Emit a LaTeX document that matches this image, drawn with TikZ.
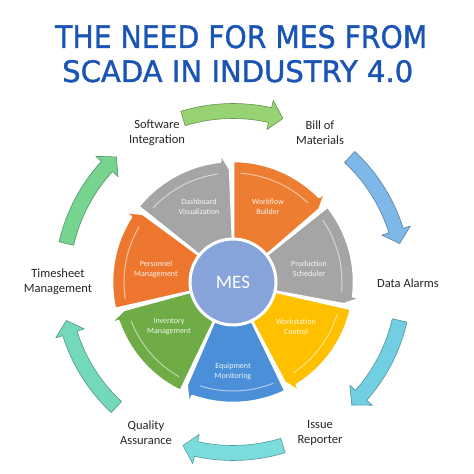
\documentclass[tikz,border=0pt]{standalone}
\usepackage{fontspec}
\setmainfont{Carlito}
\newfontfamily\titlefont[FakeBold=1.2]{DejaVu Sans}
\definecolor{segorange}{HTML}{ED7D31}
\definecolor{seggray}{HTML}{A5A5A5}
\definecolor{segyellow}{HTML}{FFC000}
\definecolor{segblue}{HTML}{4A8FD8}
\definecolor{seggreen}{HTML}{6FAC46}
\definecolor{mesblue}{HTML}{86A3DA}
\definecolor{titleblue}{HTML}{1A55B5}
\definecolor{arA}{HTML}{97D273}
\definecolor{arB}{HTML}{7DB8E8}
\definecolor{arC}{HTML}{72CFE2}
\definecolor{arD}{HTML}{7ADCDC}
\definecolor{arE}{HTML}{74D8BA}
\definecolor{arF}{HTML}{76D48E}
\newcommand{\messeg}[3]{%
  \pgfmathsetmacro\hbase{#3+6}%
  \pgfmathsetmacro\htip{#3+1.5}%
  \pgfmathsetmacro\hlA{#2-4}%
  \pgfmathsetmacro\hlB{#3+8}%
  \filldraw[fill=#1, draw=white, line width=2.5pt, line join=round]
    (#2:40) -- (#2:121) arc[start angle=#2, end angle=\hbase, radius=121]
    -- (\hbase:131) -- (\htip:113) -- (#3:40)
    arc[start angle=#3, end angle=#2, radius=40] -- cycle;
  \draw[#1!45!white, line width=1pt] (\hlA:109) arc[start angle=\hlA, end angle=\hlB, radius=109];
}
\newcommand{\ringarrow}[4]{%
  \pgfmathsetmacro\hb{#3+4.5}%
  \filldraw[fill=#1, draw=#4, line width=0.6pt, line join=round]
    (#2:178.5) arc[start angle=#2, end angle=\hb, radius=178.5]
    -- (\hb:186) -- (#3:171) -- (\hb:156) -- (\hb:163.5)
    arc[start angle=\hb, end angle=#2, radius=163.5] -- cycle;
}
\tikzset{
  outlabel/.style={align=center, text=black!85, font=\fontsize{12.5}{15}\selectfont, inner sep=0pt},
  seglabel/.style={align=center, text=white, opacity=0.9, font=\fontsize{8}{10}\selectfont, inner sep=0pt},
  titleline/.style={anchor=base west, inner sep=0pt, text=titleblue}
}
\begin{document}
\begin{tikzpicture}[x=1pt,y=1pt]
\useasboundingbox (0,0) rectangle (474,474);
\fill[white] (0,0) rectangle (474,474);
% title
\node[titleline] (t1) at (55,426) {\resizebox{372pt}{23pt}{\titlefont THE NEED FOR MES FROM}};
\node[titleline] (t2) at (62,392) {\resizebox{351pt}{22pt}{\titlefont SCADA IN INDUSTRY 4.0}};
\begin{scope}[shift={(233,192)}]
% outer ring arrows
\ringarrow{arA}{107}{73}{arA!70!black}
\ringarrow{arB}{47}{13}{arB!70!black}
\ringarrow{arC}{-13}{-46}{arC!70!black}
\ringarrow{arD}{-73}{-107}{arD!70!black}
\ringarrow{arE}{-133}{-167}{arE!70!black}
\ringarrow{arF}{167}{133}{arF!70!black}
% segments
\messeg{segorange}{90}{38.571}
\messeg{seggray}{38.571}{-12.857}
\messeg{segyellow}{-12.857}{-64.286}
\messeg{segblue}{-64.286}{-115.714}
\messeg{seggreen}{-115.714}{-167.143}
\messeg{segorange!95!red}{-167.143}{-218.571}
\messeg{seggray}{141.429}{90}
% centre
\node[circle, fill=mesblue, draw=white, line width=3pt, minimum size=86pt, text=white, font=\fontsize{19}{21}\selectfont] (mes) at (0,0) {MES};
% segment labels
\node[seglabel] (workflow) at (35,75) {Workflow\\Builder};
\node[seglabel] (production) at (76,13) {Production\\Scheduler};
\node[seglabel] (workstation) at (63,-45) {Workstation\\Control};
\node[seglabel] (equipment) at (0,-89) {Equipment\\Monitoring};
\node[seglabel] (inventory) at (-64,-45) {Inventory\\Management};
\node[seglabel] (personnel) at (-77,13) {Personnel\\Management};
\node[seglabel] (dashboard) at (-34,75) {Dashboard\\Visualization};
\end{scope}
% outer labels
\node[outlabel] (software) at (157,341) {Software\\Integration};
\node[outlabel] (bom) at (320,341) {Bill of\\Materials};
\node[outlabel] (alarms) at (408,191) {Data Alarms};
\node[outlabel] (issue) at (320,41) {Issue\\Reporter};
\node[outlabel] (quality) at (146,41) {Quality\\Assurance};
\node[outlabel] (timesheet) at (58,192) {Timesheet\\Management};
\end{tikzpicture}
\end{document}
